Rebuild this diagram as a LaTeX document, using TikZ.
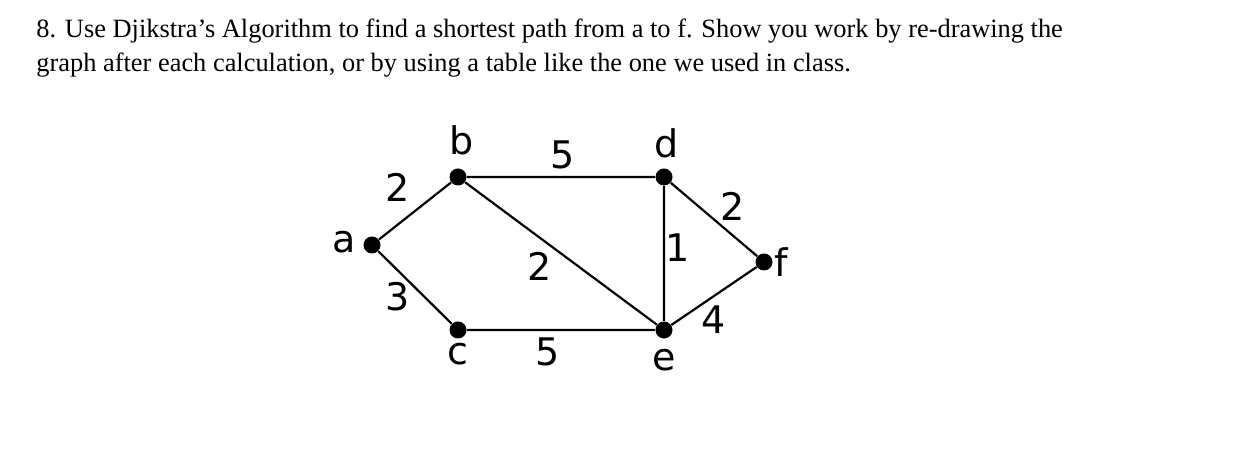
\documentclass[tikz,border=0pt]{standalone}
\usepackage{fontspec}
\setmainfont{Liberation Serif}
\newfontfamily\dv{DejaVu Sans}
\begin{document}
\begin{tikzpicture}[x=0.5pt,y=-0.5pt,
  vtx/.style={circle,fill=black,inner sep=0pt,minimum size=8.5pt},
  lbl/.style={font=\dv\fontsize{19}{19}\selectfont,inner sep=0pt},
  edge/.style={line width=1.1pt}]
\useasboundingbox (0,0) rectangle (1258,458);
\node[anchor=base west,inner sep=0pt,font=\fontsize{13.2}{16}\selectfont] (t1) at (36,38) {8. Use Djikstra's Algorithm to find a shortest path from a to f. Show you work by re-drawing the};
\node[anchor=base west,inner sep=0pt,font=\fontsize{13.2}{16}\selectfont] (t2) at (36,72) {graph after each calculation, or by using a table like the one we used in class.};
\node[vtx] (a) at (372,245) {};
\node[vtx] (b) at (458,177) {};
\node[vtx] (d) at (664,177) {};
\node[vtx] (f) at (764,262) {};
\node[vtx] (c) at (458,330) {};
\node[vtx] (e) at (664,330) {};
\draw[edge] (a)--(b) (a)--(c) (b)--(d) (b)--(e) (c)--(e) (d)--(e) (d)--(f) (e)--(f);
\node[lbl] (la) at (344,242) {a};
\node[lbl] (lb) at (462,140) {b};
\node[lbl] (ld) at (667,143) {d};
\node[lbl] (lf) at (781,262) {f};
\node[lbl] (lc) at (458,354) {c};
\node[lbl] (le) at (664,360) {e};
\node[lbl] (w1) at (398,187) {2};
\node[lbl] (w2) at (563,155) {5};
\node[lbl] (w3) at (733,206) {2};
\node[lbl] (w4) at (540,266) {2};
\node[lbl] (w5) at (678,248) {1};
\node[lbl] (w6) at (398,297) {3};
\node[lbl] (w7) at (714,320) {4};
\node[lbl] (w8) at (548,352) {5};
\end{tikzpicture}
\end{document}
